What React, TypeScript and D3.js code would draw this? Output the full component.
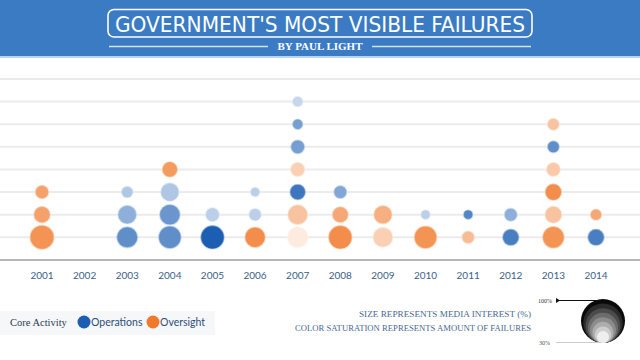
import React, { useRef, useEffect } from 'react';
import * as d3 from 'd3';

// years along the axis
const years = ['2001', '2002', '2003', '2004', '2005', '2006', '2007', '2008', '2009', '2010', '2011', '2012', '2013', '2014'];
const levels = [1, 2, 3, 4, 5, 6, 7, 8];

// one entry per failure bubble
const failYear = ['2001', '2001', '2001', '2003', '2003', '2003', '2004', '2004', '2004', '2004', '2005', '2005', '2006', '2006', '2006',
  '2007', '2007', '2007', '2007', '2007', '2007', '2007', '2008', '2008', '2008', '2009', '2009', '2010', '2010', '2011', '2011',
  '2012', '2012', '2013', '2013', '2013', '2013', '2013', '2013', '2014', '2014'];
const failStack = [1, 2, 3, 1, 2, 3, 1, 2, 3, 4, 1, 2, 1, 2, 3,
  1, 2, 3, 4, 5, 6, 7, 1, 2, 3, 1, 2, 1, 2, 1, 2,
  1, 2, 1, 2, 3, 4, 5, 6, 1, 2];
const failActivity = ['O', 'O', 'O', 'P', 'P', 'P', 'P', 'P', 'P', 'O', 'P', 'P', 'O', 'P', 'P',
  'O', 'O', 'P', 'O', 'P', 'P', 'P', 'O', 'O', 'P', 'O', 'O', 'O', 'P', 'O', 'P',
  'P', 'P', 'O', 'O', 'O', 'O', 'P', 'O', 'P', 'O'];
const failInterest = [100, 65, 51, 86, 75, 42, 93, 84, 74, 60, 97, 53, 83, 46, 32,
  86, 81, 61, 55, 53, 37, 37, 97, 63, 49, 81, 74, 93, 32, 47, 32,
  65, 49, 89, 67, 65, 53, 44, 44, 65, 41];
const failSaturation = [0.8, 0.7, 0.7, 0.7, 0.5, 0.35, 0.7, 0.65, 0.35, 0.75, 1.0, 0.3, 0.85, 0.3, 0.3,
  0.15, 0.45, 0.85, 0.35, 0.6, 0.6, 0.25, 0.85, 0.65, 0.55, 0.35, 0.6, 0.8, 0.3, 0.5, 0.75,
  0.8, 0.5, 0.8, 0.45, 0.85, 0.4, 0.7, 0.45, 0.8, 0.65];

const legendSteps = [100, 90, 80, 70, 60, 50, 40, 30];

const BLUE = '#1b5eb2';
const ORANGE = '#f0792b';

const App = () => {
  const ref = useRef<SVGSVGElement>(null);

  useEffect(() => {
    const svg = d3.select(ref.current);
    svg.selectAll('*').remove();
    const W = 640;

    // header band
    svg.append('rect').attr('x', 0).attr('y', 0).attr('width', W).attr('height', 56).attr('fill', '#3a7bc3');
    svg.append('rect').attr('x', 0).attr('y', 56).attr('width', W).attr('height', 2).attr('fill', '#b9d4ef');
    svg.append('rect').attr('x', 108).attr('y', 9.5).attr('width', 424).attr('height', 27.5).attr('rx', 6)
      .attr('fill', 'none').attr('stroke', '#fff').attr('stroke-width', 1.6);
    svg.append('text').attr('x', 320).attr('y', 32).attr('text-anchor', 'middle')
      .attr('font-family', 'DejaVu Sans Condensed, DejaVu Sans').attr('font-size', 22)
      .attr('textLength', 410).attr('lengthAdjust', 'spacingAndGlyphs')
      .attr('fill', '#fff').text("GOVERNMENT'S MOST VISIBLE FAILURES");
    svg.append('text').attr('x', 320).attr('y', 50).attr('text-anchor', 'middle')
      .attr('font-family', 'Liberation Serif, serif').attr('font-weight', 'bold').attr('font-size', 11)
      .attr('fill', '#fff').text('BY PAUL LIGHT');
    svg.append('line').attr('x1', 109).attr('x2', 268).attr('y1', 46.5).attr('y2', 46.5).attr('stroke', '#d2e4f6').attr('stroke-width', 1.3);
    svg.append('line').attr('x1', 372).attr('x2', 531).attr('y1', 46.5).attr('y2', 46.5).attr('stroke', '#d2e4f6').attr('stroke-width', 1.3);

    // scales
    const x = d3.scalePoint<string>().domain(years).range([42, 596]);
    const y = d3.scaleLinear().domain([1, 8]).range([237.3, 79]);
    const r = d3.scaleLinear().domain([30, 100]).range([4.5, 12]);
    const shade = (act: string, t: number) => d3.interpolateRgb('#ffffff', act === 'P' ? BLUE : ORANGE)(t);

    // grid
    svg.append('g').selectAll('line').data(levels).join('line')
      .attr('x1', 0).attr('x2', W).attr('y1', d => y(d)).attr('y2', d => y(d))
      .attr('stroke', '#ebebeb').attr('stroke-width', 2);
    svg.append('line').attr('x1', 0).attr('x2', W).attr('y1', 260).attr('y2', 260)
      .attr('stroke', '#b5b5b5').attr('stroke-width', 2);

    // bubbles
    const idx = d3.range(failYear.length);
    svg.append('g').selectAll('circle').data(idx).join('circle')
      .attr('cx', i => x(failYear[i]) as number)
      .attr('cy', i => y(failStack[i]))
      .attr('r', i => r(failInterest[i]))
      .attr('fill', i => shade(failActivity[i], failSaturation[i]))
      .attr('stroke', i => shade(failActivity[i], failSaturation[i] * 0.4))
      .attr('stroke-opacity', 0.6).attr('stroke-width', 1.2);

    // x labels
    svg.append('g').selectAll('text').data(years).join('text')
      .attr('x', d => x(d) as number).attr('y', 279).attr('text-anchor', 'middle')
      .attr('font-family', 'Lato, sans-serif').attr('font-size', 10).attr('fill', '#3b5f88')
      .text(d => d);

    // activity legend
    svg.append('rect').attr('x', 0).attr('y', 311).attr('width', 215).attr('height', 24).attr('fill', '#f6f7f9');
    svg.append('text').attr('x', 10).attr('y', 326).attr('font-family', 'Liberation Serif, serif').attr('font-size', 10.5)
      .attr('fill', '#283b55').text('Core Activity');
    const acts = [{ c: BLUE, label: 'Operations', x: 84 }, { c: ORANGE, label: 'Oversight', x: 153 }];
    acts.forEach(a => {
      svg.append('circle').attr('cx', a.x).attr('cy', 322).attr('r', 6.5).attr('fill', a.c);
      svg.append('text').attr('x', a.x + 7).attr('y', 326).attr('font-family', 'Lato, sans-serif').attr('font-size', 10.5)
        .attr('fill', '#2c4f7c').text(a.label);
    });

    // size / saturation notes
    svg.append('text').attr('x', 531).attr('y', 317).attr('text-anchor', 'end')
      .attr('font-family', 'Liberation Serif, serif').attr('font-size', 8.5).attr('fill', '#4a6990')
      .attr('textLength', 172).attr('lengthAdjust', 'spacingAndGlyphs').text('SIZE REPRESENTS MEDIA INTEREST (%)');
    svg.append('text').attr('x', 531).attr('y', 331).attr('text-anchor', 'end')
      .attr('font-family', 'Liberation Serif, serif').attr('font-size', 8.5).attr('fill', '#4a6990')
      .attr('textLength', 236).attr('lengthAdjust', 'spacingAndGlyphs').text('COLOR SATURATION REPRESENTS AMOUNT OF FAILURES');

    // size legend bubble
    const lr = d3.scaleLinear().domain([30, 100]).range([6, 22]);
    const lc = d3.scaleLinear<string>().domain([30, 100]).range(['#eeeeee', '#0a0a0a']);
    svg.append('g').selectAll('circle').data(legendSteps).join('circle')
      .attr('cx', 603).attr('cy', d => 343 - lr(d)).attr('r', d => lr(d)).attr('fill', d => lc(d));
    svg.append('line').attr('x1', 556).attr('x2', 600).attr('y1', 300.5).attr('y2', 300.5).attr('stroke', '#111').attr('stroke-width', 1);
    svg.append('path').attr('d', 'M556,298 L560,300.5 L556,303 Z').attr('fill', '#111');
    svg.append('line').attr('x1', 556).attr('x2', 600).attr('y1', 342.5).attr('y2', 342.5).attr('stroke', '#cccccc').attr('stroke-width', 1);
    svg.append('text').attr('x', 538).attr('y', 302.5).attr('font-family', 'Liberation Serif, serif').attr('font-size', 6).attr('fill', '#333').text('100%');
    svg.append('text').attr('x', 539).attr('y', 344.5).attr('font-family', 'Liberation Serif, serif').attr('font-size', 6).attr('fill', '#555').text('30%');
  }, []);

  return (
    <svg ref={ref} width={640} height={360} style={{ position: 'absolute', left: 0, top: 0, background: '#fff' }} />
  );
};

export default App;
